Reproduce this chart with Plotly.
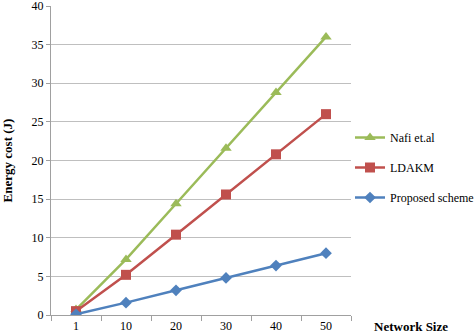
import plotly.graph_objects as go

categories = ["1", "10", "20", "30", "40", "50"]
nafi = [0.7, 7.2, 14.4, 21.6, 28.8, 36.0]
ldakm = [0.5, 5.2, 10.4, 15.6, 20.8, 26.0]
proposed = [0.1, 1.6, 3.2, 4.8, 6.4, 8.0]
y_ticks = [0, 5, 10, 15, 20, 25, 30, 35, 40]

FONT = "Liberation Serif"

fig = go.Figure()
fig.add_trace(go.Scatter(x=categories, y=nafi, name="Nafi et.al", mode="lines+markers",
                         legendgroup="a",
                         line=dict(color="#9BBB59", width=2.5),
                         marker=dict(symbol="triangle-up", size=10, color="#9BBB59")))
fig.add_trace(go.Scatter(x=categories, y=ldakm, name="LDAKM", mode="lines+markers",
                         legendgroup="b",
                         line=dict(color="#C0504D", width=2.5),
                         marker=dict(symbol="square", size=10, color="#C0504D")))
fig.add_trace(go.Scatter(x=categories, y=proposed, name="Proposed scheme", mode="lines+markers",
                         legendgroup="c",
                         line=dict(color="#4F81BD", width=2.5),
                         marker=dict(symbol="diamond", size=9, color="#4F81BD")))

W, H = 474, 333
L, R, T, B = 51, 123, 6, 18
fig.update_layout(
    width=W, height=H,
    margin=dict(l=L, r=R, t=T, b=B, autoexpand=False),
    paper_bgcolor="white", plot_bgcolor="white",
    font=dict(family=FONT, size=12, color="black"),
    showlegend=True,
    legend=dict(xref="container", yref="container", x=350 / W, y=1 - 123 / H,
                xanchor="left", yanchor="top",
                font=dict(family=FONT, size=12), tracegroupgap=11, itemwidth=30,
                bgcolor="rgba(0,0,0,0)", traceorder="grouped"),
    xaxis=dict(type="category", range=[-0.5, 5.5], tickson="boundaries", ticks="outside",
               ticklen=5, tickcolor="#A0A0A0", showline=True, linecolor="#A0A0A0", linewidth=1,
               showgrid=False, tickfont=dict(family=FONT, size=12), zeroline=False),
    yaxis=dict(range=[0, 40], tickvals=y_ticks, showgrid=True, gridcolor="#BFBFBF", gridwidth=1,
               showline=True, linecolor="#A0A0A0", linewidth=1, ticks="outside", ticklen=4,
               tickcolor="#A0A0A0", zeroline=False, tickfont=dict(family=FONT, size=12),
               ticklabeloverflow="allow",
               title=dict(text="<b>Energy cost (J)</b>", font=dict(family=FONT, size=13), standoff=16)),
    annotations=[dict(text="<b>Network Size</b>", x=(411 - L) / (W - L - R),
                      y=(H - 326 - B) / (H - T - B),
                      xref="paper", yref="paper", xanchor="center", yanchor="middle",
                      showarrow=False, font=dict(family=FONT, size=13))],
)
fig.write_html("out.html")
